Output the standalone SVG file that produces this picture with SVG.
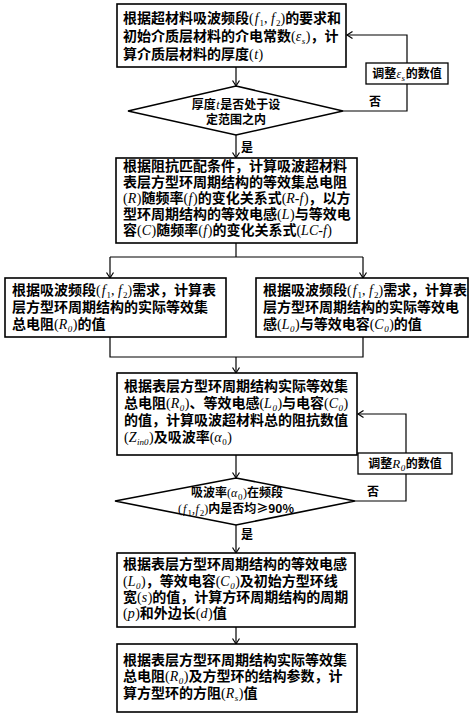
<svg xmlns="http://www.w3.org/2000/svg" width="474" height="719" viewBox="0 0 474 719">
<style>
.bx{fill:#fff;stroke:#000;stroke-width:1.6}
.lb{fill:#fff;stroke:#000;stroke-width:1.3}
.ln{fill:none;stroke:#000;stroke-width:1.2}
.t{font-family:"Noto Sans CJK SC","Noto Sans",sans-serif;font-weight:bold;font-size:14px;fill:#000}
.s{font-family:"Noto Sans CJK SC","Noto Sans",sans-serif;font-weight:bold;font-size:12px;fill:#000}
.v{font-family:"Liberation Serif",serif;font-style:italic;font-weight:normal}
.p{font-family:"Liberation Serif",serif;font-weight:normal}
.sb{font-size:9px}
</style>
<defs>
<marker id="ah" markerWidth="8" markerHeight="8" refX="6" refY="4" orient="auto" markerUnits="userSpaceOnUse">
<path d="M0.5,0.5 L6,4 L0.5,7.5" fill="none" stroke="#000" stroke-width="1.2"/>
</marker>
</defs>
<rect width="474" height="719" fill="#fff"/>
<g id="connectors">
<line class="ln" x1="236" y1="67" x2="236" y2="86" marker-end="url(#ah)"/>
<line class="ln" x1="236" y1="135" x2="236" y2="158" marker-end="url(#ah)"/>
<polyline class="ln" points="343,111 407,111 407,35 347,35" marker-end="url(#ah)"/>
<polyline class="ln" points="236,243 236,257"/>
<polyline class="ln" points="110,257 363,257"/>
<line class="ln" x1="110" y1="257" x2="110" y2="278" marker-end="url(#ah)"/>
<line class="ln" x1="363" y1="257" x2="363" y2="278" marker-end="url(#ah)"/>
<polyline class="ln" points="110,337 110,357 363,357 363,337"/>
<line class="ln" x1="236" y1="357" x2="236" y2="373" marker-end="url(#ah)"/>
<line class="ln" x1="236" y1="455" x2="236" y2="478" marker-end="url(#ah)"/>
<line class="ln" x1="236" y1="525" x2="236" y2="553" marker-end="url(#ah)"/>
<polyline class="ln" points="355,501 406,501 406,414 358,414" marker-end="url(#ah)"/>
<line class="ln" x1="236" y1="627" x2="236" y2="644" marker-end="url(#ah)"/>
<text class="s" x="241" y="152">是</text>
<text class="s" x="241" y="539">是</text>
<text class="s" x="369" y="106">否</text>
<text class="s" x="367" y="496">否</text>
</g>
<g id="n1">
<rect class="bx" x="117" y="4" width="229" height="63"/>
<text class="t" x="123" y="23">根据超材料吸波频段<tspan class="p">(</tspan><tspan class="v" dx="1">f</tspan><tspan class="p sb" dx="1" dy="3">1</tspan><tspan class="p" dy="-3">, </tspan><tspan class="v">f</tspan><tspan class="p sb" dx="1" dy="3">2</tspan><tspan class="p" dy="-3">)</tspan>的要求和</text>
<text class="t" x="123" y="41">初始介质层材料的介电常数<tspan class="p">(</tspan><tspan class="v">ε</tspan><tspan class="v sb" dx="0.5" dy="3">s</tspan><tspan class="p" dx="0.5" dy="-3">)</tspan>，计</text>
<text class="t" x="123" y="59">算介质层材料的厚度<tspan class="p">(</tspan><tspan class="v" dx="0.5">t</tspan><tspan class="p" dx="0.5">)</tspan></text>
</g>
<g id="lab1">
<rect class="lb" x="366" y="63" width="82" height="21"/>
<text class="s" x="407" y="78" text-anchor="middle">调整<tspan class="v">ε</tspan><tspan class="v sb" dx="0.5" dy="3">s</tspan><tspan dx="0.5" dy="-3">的数值</tspan></text>
</g>
<g id="d1">
<polygon class="bx" points="236,86 343,111 236,135 128,111"/>
<text class="s" x="236" y="109" text-anchor="middle">厚度<tspan class="v" dx="0.5">t</tspan><tspan dx="0.5">是否处于设</tspan></text>
<text class="s" x="236" y="124" text-anchor="middle">定范围之内</text>
</g>
<g id="n2">
<rect class="bx" x="116" y="158" width="241" height="85"/>
<text class="t" x="123" y="171">根据阻抗匹配条件，计算吸波超材料</text>
<text class="t" x="123" y="187">表层方型环周期结构的等效集总电阻</text>
<text class="t" x="123" y="203"><tspan class="p">(</tspan><tspan class="v">R</tspan><tspan class="p" dx="0.5">)</tspan>随频率<tspan class="p">(</tspan><tspan class="v" dx="0.5">f</tspan><tspan class="p" dx="0.5">)</tspan>的变化关系式<tspan class="p">(</tspan><tspan class="v">R-f</tspan><tspan class="p" dx="0.5">)</tspan>，以方</text>
<text class="t" x="123" y="219">型环周期结构的等效电感<tspan class="p">(</tspan><tspan class="v">L</tspan><tspan class="p" dx="0.5">)</tspan>与等效电</text>
<text class="t" x="123" y="235">容<tspan class="p">(</tspan><tspan class="v">C</tspan><tspan class="p" dx="0.5">)</tspan>随频率<tspan class="p">(</tspan><tspan class="v" dx="0.5">f</tspan><tspan class="p" dx="0.5">)</tspan>的变化关系式<tspan class="p">(</tspan><tspan class="v">LC-f</tspan><tspan class="p" dx="0.5">)</tspan></text>
</g>
<g id="n3a">
<rect class="bx" x="5" y="278" width="221" height="59"/>
<text class="t" x="12" y="295">根据吸波频段<tspan class="p">(</tspan><tspan class="v" dx="1">f</tspan><tspan class="p sb" dx="1" dy="3">1</tspan><tspan class="p" dy="-3">, </tspan><tspan class="v">f</tspan><tspan class="p sb" dx="1" dy="3">2</tspan><tspan class="p" dy="-3">)</tspan>需求，计算表</text>
<text class="t" x="12" y="312">层方型环周期结构的实际等效集</text>
<text class="t" x="12" y="329">总电阻<tspan class="p">(</tspan><tspan class="v">R</tspan><tspan class="v sb" dx="0.5" dy="3">0</tspan><tspan class="p" dx="0.5" dy="-3">)</tspan>的值</text>
</g>
<g id="n3b">
<rect class="bx" x="256" y="278" width="212" height="59"/>
<text class="t" x="263" y="295">根据吸波频段<tspan class="p">(</tspan><tspan class="v" dx="1">f</tspan><tspan class="p sb" dx="1" dy="3">1</tspan><tspan class="p" dy="-3">, </tspan><tspan class="v">f</tspan><tspan class="p sb" dx="1" dy="3">2</tspan><tspan class="p" dy="-3">)</tspan>需求，计算表</text>
<text class="t" x="263" y="312">层方型环周期结构的实际等效电</text>
<text class="t" x="263" y="329">感<tspan class="p">(</tspan><tspan class="v">L</tspan><tspan class="v sb" dx="0.5" dy="3">0</tspan><tspan class="p" dx="0.5" dy="-3">)</tspan>与等效电容<tspan class="p">(</tspan><tspan class="v">C</tspan><tspan class="v sb" dx="0.5" dy="3">0</tspan><tspan class="p" dx="0.5" dy="-3">)</tspan>的值</text>
</g>
<g id="n4">
<rect class="bx" x="117" y="373" width="240" height="82"/>
<text class="t" x="124" y="391">根据表层方型环周期结构实际等效集</text>
<text class="t" x="124" y="408">总电阻<tspan class="p">(</tspan><tspan class="v">R</tspan><tspan class="v sb" dx="0.5" dy="3">0</tspan><tspan class="p" dx="0.5" dy="-3">)</tspan>、等效电感<tspan class="p">(</tspan><tspan class="v">L</tspan><tspan class="v sb" dx="0.5" dy="3">0</tspan><tspan class="p" dx="0.5" dy="-3">)</tspan>与电容<tspan class="p">(</tspan><tspan class="v">C</tspan><tspan class="v sb" dx="0.5" dy="3">0</tspan><tspan class="p" dx="0.5" dy="-3">)</tspan></text>
<text class="t" x="124" y="425">的值，计算吸波超材料总的阻抗数值</text>
<text class="t" x="124" y="442"><tspan class="p">(</tspan><tspan class="v">Z</tspan><tspan class="v sb" dx="0.5" dy="3">in0</tspan><tspan class="p" dx="0.5" dy="-3">)</tspan>及吸波率<tspan class="p">(</tspan><tspan class="v">α</tspan><tspan class="p sb" dx="0.5" dy="3">0</tspan><tspan class="p" dx="0.5" dy="-3">)</tspan></text>
</g>
<g id="lab2">
<rect class="lb" x="358" y="453" width="94" height="21"/>
<text class="s" x="405" y="468" text-anchor="middle">调整<tspan class="v" font-size="13">R</tspan><tspan class="v sb" dx="0.5" dy="3">0</tspan><tspan dx="0.5" dy="-3">的数值</tspan></text>
</g>
<g id="d2">
<polygon class="bx" points="236,478 355,501 236,525 115,501"/>
<text class="s" x="237" y="497" text-anchor="middle">吸波率<tspan class="p">(</tspan><tspan class="v">α</tspan><tspan class="p sb" dx="0.5" dy="3">0</tspan><tspan class="p" dx="0.5" dy="-3">)</tspan>在频段</text>
<text class="s" x="236" y="513" text-anchor="middle"><tspan class="p">(</tspan><tspan class="v" dx="1">f</tspan><tspan class="p sb" dx="1" dy="3">1</tspan><tspan class="p" dy="-3">,</tspan><tspan class="v" dx="0.5">f</tspan><tspan class="p sb" dx="1" dy="3">2</tspan><tspan class="p" dy="-3">)</tspan>内是否均≥90%</text>
</g>
<g id="n5">
<rect class="bx" x="117" y="553" width="238" height="74"/>
<text class="t" x="123" y="569">根据表层方型环周期结构的等效电感</text>
<text class="t" x="123" y="586"><tspan class="p">(</tspan><tspan class="v">L</tspan><tspan class="v sb" dx="0.5" dy="3">0</tspan><tspan class="p" dx="0.5" dy="-3">)</tspan>，等效电容<tspan class="p">(</tspan><tspan class="v">C</tspan><tspan class="v sb" dx="0.5" dy="3">0</tspan><tspan class="p" dx="0.5" dy="-3">)</tspan>及初始方型环线</text>
<text class="t" x="123" y="602">宽<tspan class="p">(</tspan><tspan class="v">s</tspan><tspan class="p" dx="0.5">)</tspan>的值，计算方环周期结构的周期</text>
<text class="t" x="123" y="618"><tspan class="p">(</tspan><tspan class="v">p</tspan><tspan class="p" dx="0.5">)</tspan>和外边长<tspan class="p">(</tspan><tspan class="v">d</tspan><tspan class="p" dx="0.5">)</tspan>值</text>
</g>
<g id="n6">
<rect class="bx" x="117" y="644" width="240" height="68"/>
<text class="t" x="123" y="665">根据表层方型环周期结构实际等效集</text>
<text class="t" x="123" y="681">总电阻<tspan class="p">(</tspan><tspan class="v">R</tspan><tspan class="v sb" dx="0.5" dy="3">0</tspan><tspan class="p" dx="0.5" dy="-3">)</tspan>及方型环的结构参数，计</text>
<text class="t" x="123" y="698">算方型环的方阻<tspan class="p">(</tspan><tspan class="v">R</tspan><tspan class="v sb" dx="0.5" dy="3">s</tspan><tspan class="p" dx="0.5" dy="-3">)</tspan>值</text>
</g>
</svg>
